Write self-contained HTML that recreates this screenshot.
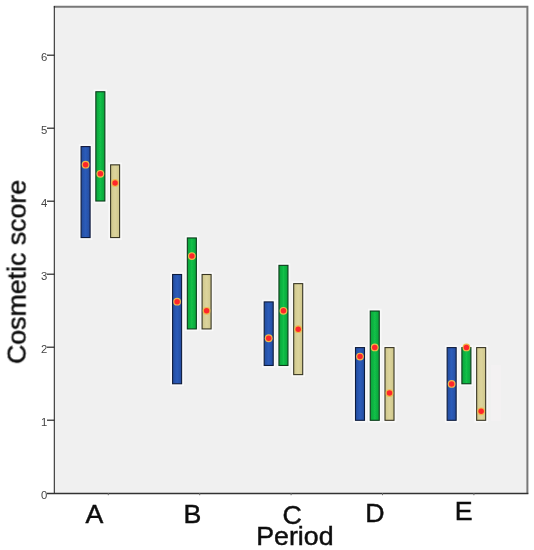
<!DOCTYPE html>
<html><head><meta charset="utf-8"><title>Cosmetic score by Period</title>
<style>
html,body{margin:0;padding:0;background:#fff;}
svg{display:block;}
text{font-family:"Liberation Sans",Arial,sans-serif;fill:#111;stroke:#111;stroke-width:0.45px;}
</style></head><body>
<svg width="534" height="550" viewBox="0 0 534 550">
<defs><filter id="b" x="-5%" y="-5%" width="110%" height="110%"><feGaussianBlur stdDeviation="0.55"/></filter>
<linearGradient id="g0" x1="0" x2="1" y1="0" y2="0"><stop offset="0" stop-color="#244c9e"/><stop offset="0.5" stop-color="#2c5cba"/><stop offset="1" stop-color="#244c9e"/></linearGradient>
<linearGradient id="g1" x1="0" x2="1" y1="0" y2="0"><stop offset="0" stop-color="#0ea23a"/><stop offset="0.5" stop-color="#12c048"/><stop offset="1" stop-color="#0ea23a"/></linearGradient>
<linearGradient id="g2" x1="0" x2="1" y1="0" y2="0"><stop offset="0" stop-color="#cfc78c"/><stop offset="0.5" stop-color="#dcd49c"/><stop offset="1" stop-color="#cfc78c"/></linearGradient>
</defs>
<rect x="0" y="0" width="534" height="550" fill="#fff"/>
<g filter="url(#b)">
<rect x="54.3" y="6.8" width="473.1" height="486.6" fill="#f0f0f0"/>
<path d="M53.8 6.8H527.4V494.1" fill="none" stroke="#787878" stroke-width="2"/>
<line x1="54.3" y1="5.9" x2="54.3" y2="494" stroke="#242424" stroke-width="1.05"/>
<line x1="47" y1="493.4" x2="528.3" y2="493.4" stroke="#303030" stroke-width="1.5"/>

<text x="47.2" y="498.6" font-size="11.3" text-anchor="end" style="fill:#444;stroke:none">0</text>
<line x1="47" y1="420.2" x2="54.3" y2="420.2" stroke="#262626" stroke-width="1.2"/>
<text x="47.2" y="425.6" font-size="11.3" text-anchor="end" style="fill:#444;stroke:none">1</text>
<line x1="47" y1="347.2" x2="54.3" y2="347.2" stroke="#262626" stroke-width="1.2"/>
<text x="47.2" y="352.6" font-size="11.3" text-anchor="end" style="fill:#444;stroke:none">2</text>
<line x1="47" y1="274.2" x2="54.3" y2="274.2" stroke="#262626" stroke-width="1.2"/>
<text x="47.2" y="279.6" font-size="11.3" text-anchor="end" style="fill:#444;stroke:none">3</text>
<line x1="47" y1="201.2" x2="54.3" y2="201.2" stroke="#262626" stroke-width="1.2"/>
<text x="47.2" y="206.6" font-size="11.3" text-anchor="end" style="fill:#444;stroke:none">4</text>
<line x1="47" y1="128.2" x2="54.3" y2="128.2" stroke="#262626" stroke-width="1.2"/>
<text x="47.2" y="133.6" font-size="11.3" text-anchor="end" style="fill:#444;stroke:none">5</text>
<line x1="47" y1="55.2" x2="54.3" y2="55.2" stroke="#262626" stroke-width="1.2"/>
<text x="47.2" y="60.5" font-size="11.3" text-anchor="end" style="fill:#444;stroke:none">6</text>
<line x1="108.3" y1="493" x2="108.3" y2="495.2" stroke="#666" stroke-width="1"/>
<line x1="199.7" y1="493" x2="199.7" y2="495.2" stroke="#666" stroke-width="1"/>
<line x1="291.1" y1="493" x2="291.1" y2="495.2" stroke="#666" stroke-width="1"/>
<line x1="382.5" y1="493" x2="382.5" y2="495.2" stroke="#666" stroke-width="1"/>
<line x1="473.9" y1="493" x2="473.9" y2="495.2" stroke="#666" stroke-width="1"/>
<rect x="79.70" y="145.18" width="11.80" height="93.77" fill="none" stroke="#f9f9f9" stroke-width="1.7"/>
<rect x="94.45" y="90.35" width="11.80" height="112.05" fill="none" stroke="#f9f9f9" stroke-width="1.7"/>
<rect x="109.20" y="163.45" width="11.80" height="75.50" fill="none" stroke="#f9f9f9" stroke-width="1.7"/>
<rect x="171.20" y="273.10" width="11.80" height="112.05" fill="none" stroke="#f9f9f9" stroke-width="1.7"/>
<rect x="185.95" y="236.55" width="11.80" height="93.77" fill="none" stroke="#f9f9f9" stroke-width="1.7"/>
<rect x="200.70" y="273.10" width="11.80" height="57.22" fill="none" stroke="#f9f9f9" stroke-width="1.7"/>
<rect x="262.80" y="300.51" width="11.80" height="66.36" fill="none" stroke="#f9f9f9" stroke-width="1.7"/>
<rect x="277.55" y="263.96" width="11.80" height="102.91" fill="none" stroke="#f9f9f9" stroke-width="1.7"/>
<rect x="292.30" y="282.24" width="11.80" height="93.77" fill="none" stroke="#f9f9f9" stroke-width="1.7"/>
<rect x="354.10" y="346.20" width="11.80" height="75.50" fill="none" stroke="#f9f9f9" stroke-width="1.7"/>
<rect x="368.85" y="309.65" width="11.80" height="112.05" fill="none" stroke="#f9f9f9" stroke-width="1.7"/>
<rect x="383.60" y="346.20" width="11.80" height="75.50" fill="none" stroke="#f9f9f9" stroke-width="1.7"/>
<rect x="445.75" y="346.20" width="11.80" height="75.50" fill="none" stroke="#f9f9f9" stroke-width="1.7"/>
<rect x="460.50" y="346.20" width="11.80" height="38.95" fill="none" stroke="#f9f9f9" stroke-width="1.7"/>
<rect x="475.25" y="346.20" width="11.80" height="75.50" fill="none" stroke="#f9f9f9" stroke-width="1.7"/>
<rect x="81.10" y="146.58" width="9.00" height="90.97" fill="url(#g0)" stroke="#101c3c" stroke-width="1.1"/>
<rect x="95.85" y="91.75" width="9.00" height="109.25" fill="url(#g1)" stroke="#0a3c1c" stroke-width="1.1"/>
<rect x="110.60" y="164.85" width="9.00" height="72.70" fill="url(#g2)" stroke="#383624" stroke-width="1.1"/>
<circle cx="85.60" cy="164.65" r="3.9" fill="#f0b848"/>
<circle cx="85.60" cy="164.65" r="2.75" fill="#ff262c"/>
<circle cx="100.35" cy="173.79" r="3.9" fill="#f0b848"/>
<circle cx="100.35" cy="173.79" r="2.75" fill="#ff262c"/>
<circle cx="115.10" cy="182.93" r="3.9" fill="#f0b848"/>
<circle cx="115.10" cy="182.93" r="2.75" fill="#ff262c"/>
<rect x="172.60" y="274.50" width="9.00" height="109.25" fill="url(#g0)" stroke="#101c3c" stroke-width="1.1"/>
<rect x="187.35" y="237.95" width="9.00" height="90.97" fill="url(#g1)" stroke="#0a3c1c" stroke-width="1.1"/>
<rect x="202.10" y="274.50" width="9.00" height="54.42" fill="url(#g2)" stroke="#383624" stroke-width="1.1"/>
<circle cx="177.10" cy="301.71" r="3.9" fill="#f0b848"/>
<circle cx="177.10" cy="301.71" r="2.75" fill="#ff262c"/>
<circle cx="191.85" cy="256.03" r="3.9" fill="#f0b848"/>
<circle cx="191.85" cy="256.03" r="2.75" fill="#ff262c"/>
<circle cx="206.60" cy="310.85" r="3.9" fill="#f0b848"/>
<circle cx="206.60" cy="310.85" r="2.75" fill="#ff262c"/>
<rect x="264.20" y="301.91" width="9.00" height="63.56" fill="url(#g0)" stroke="#101c3c" stroke-width="1.1"/>
<rect x="278.95" y="265.36" width="9.00" height="100.11" fill="url(#g1)" stroke="#0a3c1c" stroke-width="1.1"/>
<rect x="293.70" y="283.64" width="9.00" height="90.97" fill="url(#g2)" stroke="#383624" stroke-width="1.1"/>
<circle cx="268.70" cy="338.26" r="3.9" fill="#f0b848"/>
<circle cx="268.70" cy="338.26" r="2.75" fill="#ff262c"/>
<circle cx="283.45" cy="310.85" r="3.9" fill="#f0b848"/>
<circle cx="283.45" cy="310.85" r="2.75" fill="#ff262c"/>
<circle cx="298.20" cy="329.13" r="3.9" fill="#f0b848"/>
<circle cx="298.20" cy="329.13" r="2.75" fill="#ff262c"/>
<rect x="355.50" y="347.60" width="9.00" height="72.70" fill="url(#g0)" stroke="#101c3c" stroke-width="1.1"/>
<rect x="370.25" y="311.05" width="9.00" height="109.25" fill="url(#g1)" stroke="#0a3c1c" stroke-width="1.1"/>
<rect x="385.00" y="347.60" width="9.00" height="72.70" fill="url(#g2)" stroke="#383624" stroke-width="1.1"/>
<circle cx="360.00" cy="356.54" r="3.9" fill="#f0b848"/>
<circle cx="360.00" cy="356.54" r="2.75" fill="#ff262c"/>
<circle cx="374.75" cy="347.40" r="3.9" fill="#f0b848"/>
<circle cx="374.75" cy="347.40" r="2.75" fill="#ff262c"/>
<circle cx="389.50" cy="393.09" r="3.9" fill="#f0b848"/>
<circle cx="389.50" cy="393.09" r="2.75" fill="#ff262c"/>
<rect x="447.15" y="347.60" width="9.00" height="72.70" fill="url(#g0)" stroke="#101c3c" stroke-width="1.1"/>
<rect x="461.90" y="347.60" width="9.00" height="36.15" fill="url(#g1)" stroke="#0a3c1c" stroke-width="1.1"/>
<rect x="476.65" y="347.60" width="9.00" height="72.70" fill="url(#g2)" stroke="#383624" stroke-width="1.1"/>
<circle cx="451.65" cy="383.95" r="3.9" fill="#f0b848"/>
<circle cx="451.65" cy="383.95" r="2.75" fill="#ff262c"/>
<circle cx="466.40" cy="347.40" r="3.9" fill="#f0b848"/>
<circle cx="466.40" cy="347.40" r="2.75" fill="#ff262c"/>
<circle cx="481.15" cy="411.36" r="3.9" fill="#f0b848"/>
<circle cx="481.15" cy="411.36" r="2.75" fill="#ff262c"/>
<rect x="491" y="365" width="10" height="56" fill="#f5f2f4" opacity="0.6"/>
<text transform="translate(94.4,523.2) scale(1.07,1)" font-size="25" text-anchor="middle">A</text>
<text transform="translate(192.4,522.9) scale(1.07,1)" font-size="25" text-anchor="middle">B</text>
<text transform="translate(292.2,524) scale(1.07,1)" font-size="25" text-anchor="middle">C</text>
<text transform="translate(375,522.3) scale(1.07,1)" font-size="25" text-anchor="middle">D</text>
<text transform="translate(463.7,519.8) scale(1.07,1)" font-size="25" text-anchor="middle">E</text>
<text transform="translate(294.9,545.4) scale(1.07,1)" font-size="25" text-anchor="middle">Period</text>
<text transform="translate(25.6,272) rotate(-90) scale(1.07,1)" font-size="25" text-anchor="middle">Cosmetic score</text>
</g></svg></body></html>
